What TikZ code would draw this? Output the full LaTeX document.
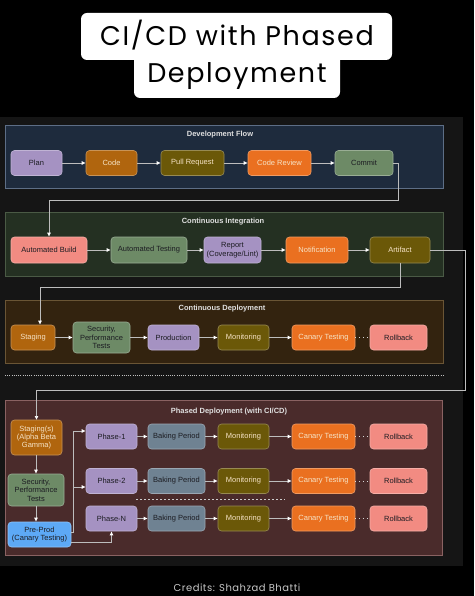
\documentclass[tikz,border=0pt]{standalone}
\usepackage{fontspec}
\setmainfont{Liberation Sans}
\newfontfamily\titlefont[LetterSpace=6]{Poppins}
\newfontfamily\credfont[LetterSpace=5]{Poppins}
\usetikzlibrary{arrows.meta}
\definecolor{panel}{HTML}{151515}
\definecolor{devfill}{HTML}{1E2B3D}\definecolor{devline}{HTML}{5D6E86}
\definecolor{cifill}{HTML}{243022}\definecolor{ciline}{HTML}{4A5A45}
\definecolor{cdfill}{HTML}{33230F}\definecolor{cdline}{HTML}{6A5535}
\definecolor{pdfill}{HTML}{4A2B2B}\definecolor{pdline}{HTML}{8A6262}
\definecolor{lav}{HTML}{A592C2}
\definecolor{brn}{HTML}{B0650E}
\definecolor{olv}{HTML}{6B5808}
\definecolor{org}{HTML}{EA7020}
\definecolor{grn}{HTML}{6D8A66}
\definecolor{sal}{HTML}{F28B82}
\definecolor{slt}{HTML}{6F8292}
\definecolor{blu}{HTML}{5DA9F6}
\definecolor{lighttxt}{HTML}{F6E3C6}
\definecolor{darktxt}{HTML}{1C1C22}
\definecolor{wire}{HTML}{BDBDBD}
\tikzset{
  nd/.style={rounded corners=3.5pt, minimum height=25, inner sep=1pt, align=center,
    font=\fontsize{7.5}{8.4}\selectfont, line width=0.6pt},
  cl/.style={nd, fill=#1, draw=#1!70!white},
  lt/.style={text=lighttxt}, dk/.style={text=darktxt},
  sect/.style={line width=0.6pt},
  stitle/.style={font=\bfseries\fontsize{7.5}{8.4}\selectfont, text=white!88!black},
  arr/.style={draw=wire, line width=0.7pt, -{Latex[length=4pt,width=4pt,fill=white,color=white]}},
  wl/.style={draw=wire, line width=0.7pt},
  dotl/.style={draw=white!85!black, line width=0.9pt, dash pattern=on 1pt off 3pt},
}
\begin{document}
\begin{tikzpicture}[x=1pt,y=-1pt]
\useasboundingbox (0,0) rectangle (474,596);
\fill[black] (0,0) rectangle (474,596);
\fill[panel] (0,117) rectangle (463,566);
% title
\fill[white, rounded corners=6pt] (81,13) rectangle (392,60);
\fill[white, rounded corners=6pt] (134,52) rectangle (340,98);
\node[font=\titlefont\fontsize{27}{30}\selectfont, text=black] (t1) at (237,35) {CI/CD with Phased};
\node[font=\titlefont\fontsize{27}{30}\selectfont, text=black] (t2) at (237,76) {Deployment};
% sections
\filldraw[sect, fill=devfill, draw=devline] (5,125) rectangle (443,188);
\node[stitle] (s1) at (220,135) {Development Flow};
\filldraw[sect, fill=cifill, draw=ciline] (5,212) rectangle (443,276);
\node[stitle] (s2) at (223,222) {Continuous Integration};
\filldraw[sect, fill=cdfill, draw=cdline] (5,300) rectangle (443,363);
\node[stitle] (s3) at (222,309) {Continuous Deployment};
\filldraw[sect, fill=pdfill, draw=pdline] (5,400) rectangle (442,555);
\node[stitle] (s4) at (229,412) {Phased Deployment (with CI/CD)};
\draw[draw=white!75!black, line width=0.8pt, dash pattern=on 1pt off 1.2pt] (5,375) -- (443,375);
% dev row
\node[cl=lav, dk, minimum width=51] (plan) at (36.5,163) {Plan};
\node[cl=brn, lt, minimum width=51] (code) at (111.5,163) {Code};
\node[cl=olv, lt, minimum width=63] (pr) at (192.5,163) {Pull Request};
\node[cl=org, lt, minimum width=63] (cr) at (279.5,163) {Code Review};
\node[cl=grn, dk, minimum width=58] (commit) at (364,163) {Commit};
\draw[arr] (plan) -- (code);
\draw[arr] (code) -- (pr);
\draw[arr] (pr) -- (cr);
\draw[arr] (cr) -- (commit);
% CI row
\node[cl=sal, dk, minimum width=76, minimum height=26] (ab) at (49,250) {Automated Build};
\node[cl=grn, dk, minimum width=76, minimum height=26] (at) at (149,250) {Automated Testing};
\node[cl=lav, dk, minimum width=57, minimum height=26] (rep) at (232.5,250) {Report\\(Coverage/Lint)};
\node[cl=org, lt, minimum width=62, minimum height=26] (notif) at (317,250) {Notification};
\node[cl=olv, lt, minimum width=60, minimum height=26] (art) at (400,250) {Artifact};
\draw[arr] (ab) -- (at);
\draw[arr] (at) -- (rep);
\draw[arr] (rep) -- (notif);
\draw[arr] (notif) -- (art);
\coordinate (c1) at (398,200);
\draw[arr] (commit.east) -| (c1) -| (ab.north);
% CD row
\node[cl=brn, lt, minimum width=44] (stg) at (33,337.5) {Staging};
\node[cl=grn, dk, minimum width=57, minimum height=31] (sec) at (101.5,337.5) {Security,\\Performance\\Tests};
\node[cl=lav, dk, minimum width=51] (prod) at (173.5,337.5) {Production};
\node[cl=olv, lt, minimum width=51] (mon) at (243.5,337.5) {Monitoring};
\node[cl=org, lt, minimum width=63] (can) at (323.5,337.5) {Canary Testing};
\node[cl=sal, dk, minimum width=57] (rb) at (398.5,337.5) {Rollback};
\draw[arr] (stg) -- (sec);
\draw[arr] (sec) -- (prod);
\draw[arr] (prod) -- (mon);
\draw[arr] (mon) -- (can);
\draw[dotl] (can) -- (rb);
\coordinate (c2) at (40,287);
\draw[arr] (art.south) |- (c2) -- (c2 |- stg.north);
% phased
\coordinate (c3) at (465,390);
\draw[arr] (art.east) -| (c3) -| (36.5,420);
\node[cl=brn, lt, minimum width=51, minimum height=35] (stgs) at (36.5,437.5) {Staging(s)\\(Alpha Beta\\Gamma)};
\node[cl=grn, dk, minimum width=56, minimum height=32] (sec2) at (36,490) {Security,\\Performance\\Tests};
\node[cl=blu, dk, minimum width=63] (pre) at (39.5,534.5) {Pre-Prod\\(Canary Testing)};
\draw[arr] (stgs.south -| 36,0) -- (sec2.north -| 36,0);
\draw[arr] (sec2.south -| 36,0) -- (pre.north -| 36,0);
\foreach \r/\y/\lab in {1/436.5/Phase-1, 2/481/Phase-2, N/518.5/Phase-N}{
  \node[cl=lav, dk, minimum width=51] (p\r) at (111.5,\y) {\lab};
  \node[cl=slt, dk, minimum width=57] (bk\r) at (176.5,\y) {Baking Period};
  \node[cl=olv, lt, minimum width=51] (mn\r) at (243.5,\y) {Monitoring};
  \node[cl=org, lt, minimum width=63] (cn\r) at (323.5,\y) {Canary Testing};
  \node[cl=sal, dk, minimum width=57] (rl\r) at (398.5,\y) {Rollback};
  \draw[arr] (p\r) -- (bk\r);
  \draw[arr] (bk\r) -- (mn\r);
  \draw[arr] (mn\r) -- (cn\r);
  \draw[dotl] (cn\r) -- (rl\r);
}
\coordinate (j1) at (73,431);
\coordinate (j2) at (73,487);
\draw[wl] (pre.east |- 0,532) -- (73,532) -- (j1);
\draw[arr] (j1) -- (j1 -| p1.west);
\draw[arr] (j2) -- (j2 -| p2.west);
\draw[arr] (pre.east |- 0,542) -| (pN.south);
\draw[draw=white!80!black, line width=0.7pt, dash pattern=on 2pt off 2pt] (136,499) -- (285,499);
% credits
\node[font=\credfont\fontsize{10}{12}\selectfont, text=white!78!black] (cred) at (237,588) {Credits: Shahzad Bhatti};
\end{tikzpicture}
\end{document}
